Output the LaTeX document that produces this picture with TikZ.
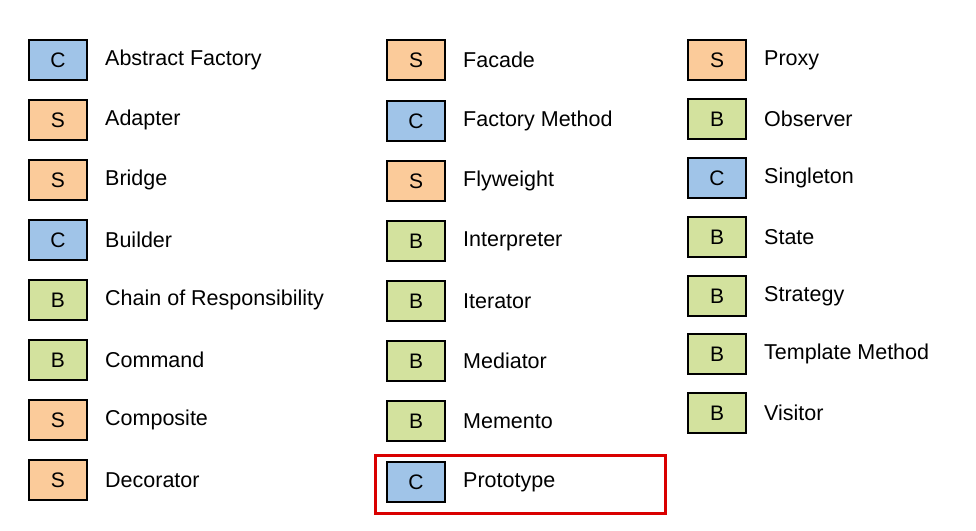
\documentclass[tikz,border=0pt]{standalone}
\usepackage{fontspec}
\setmainfont{Liberation Sans}
\definecolor{cb}{HTML}{A0C4E8}
\definecolor{cs}{HTML}{FBCB9A}
\definecolor{cg}{HTML}{D3E29E}
\tikzset{tag/.style={draw=black,line width=2pt,minimum width=58pt,minimum height=40pt,inner sep=0pt,font=\fontsize{21}{24}\selectfont},
lab/.style={anchor=west,inner sep=0pt,font=\fontsize{21.5}{24}\selectfont}}
\newcommand\pat[6]{\node[tag,fill=#4] (#1) at (#2,#3) {#5};\node[lab] (#1t) at (#2+47,#3) {#6};}
\begin{document}
\begin{tikzpicture}[x=1pt,y=-1pt]
\useasboundingbox (0,0) rectangle (976,530);
\pat{a1}{58}{60}{cb}{C}{Abstract Factory}
\pat{a2}{58}{120}{cs}{S}{Adapter}
\pat{a3}{58}{180}{cs}{S}{Bridge}
\pat{a4}{58}{240}{cb}{C}{Builder}
\pat{a5}{58}{300}{cg}{B}{Chain of Responsibility}
\pat{a6}{58}{360}{cg}{B}{Command}
\pat{a7}{58}{420}{cs}{S}{Composite}
\pat{a8}{58}{480}{cs}{S}{Decorator}
\pat{b1}{416}{60}{cs}{S}{Facade}
\pat{b2}{416}{121}{cb}{C}{Factory Method}
\pat{b3}{416}{181}{cs}{S}{Flyweight}
\pat{b4}{416}{241}{cg}{B}{Interpreter}
\pat{b5}{416}{301}{cg}{B}{Iterator}
\pat{b6}{416}{361}{cg}{B}{Mediator}
\pat{b7}{416}{421}{cg}{B}{Memento}
\pat{b8}{416}{482}{cb}{C}{Prototype}
\pat{c1}{717}{60}{cs}{S}{Proxy}
\pat{c2}{717}{119}{cg}{B}{Observer}
\pat{c3}{717}{178}{cb}{C}{Singleton}
\pat{c4}{717}{237}{cg}{B}{State}
\pat{c5}{717}{296}{cg}{B}{Strategy}
\pat{c6}{717}{354}{cg}{B}{Template Method}
\pat{c7}{717}{413}{cg}{B}{Visitor}
\node[draw=red!85!black,line width=3pt,minimum width=290pt,minimum height=58pt,inner sep=0pt] (hl) at (520,484) {};
\end{tikzpicture}
\end{document}
